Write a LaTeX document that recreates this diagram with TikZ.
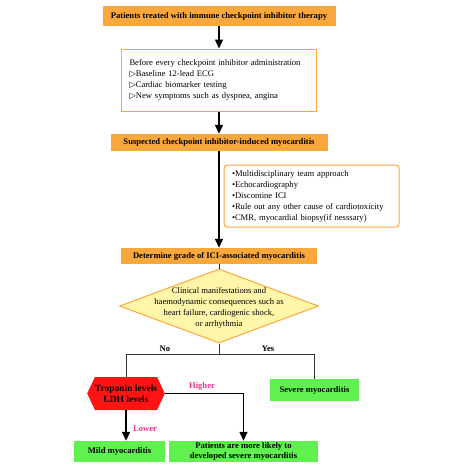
\documentclass[tikz,border=0pt]{standalone}
\usepackage{fontspec}
\setmainfont{Liberation Serif}
\newfontfamily\symfont{DejaVu Sans}
\usetikzlibrary{shapes.geometric,shapes.symbols,arrows.meta}

\definecolor{boxorange}{RGB}{250,168,60}
\definecolor{diayellow}{RGB}{255,246,170}
\definecolor{hexred}{RGB}{255,20,20}
\definecolor{boxgreen}{RGB}{96,240,80}
\definecolor{notepink}{RGB}{232,50,140}

\newcommand{\itemtri}{{\symfont\fontsize{8.2}{11}\selectfont ▷}}
\newcommand{\itembul}{•}

\begin{document}
\begin{tikzpicture}[x=1pt,y=-1pt,
	font=\fontsize{8.6}{11}\selectfont,
	stagebox/.style={fill=boxorange,inner sep=0pt,minimum height=17pt,font=\fontsize{8.6}{10}\selectfont\bfseries},
	notebox/.style={draw=boxorange,line width=1pt,fill=white,inner xsep=8pt,inner ysep=0pt,minimum height=62pt,align=left},
	outcome/.style={fill=boxgreen,inner sep=0pt,minimum height=21pt,align=center,font=\fontsize{8.6}{10}\selectfont\bfseries},
	flow/.style={-{Triangle[width=8pt,length=9pt]},line width=1.4pt},
	branch/.style={line width=1pt,draw=black!80},
	tag/.style={font=\fontsize{8.6}{10}\selectfont\bfseries}]
	\useasboundingbox (0,0) rectangle (474,471);
	\def\mx{219} % x of the main column
	
	% main column
	\node[stagebox,minimum width=233pt,minimum height=20pt] (treat) at (\mx,16) {Patients treated with immune checkpoint inhibitor therapy};
	\node[notebox,text width=179pt] (baseline) at (\mx,80) {Before every checkpoint inhibitor administration\\
		\itemtri Baseline 12-lead ECG\\
		\itemtri Cardiac biomarker testing\\
		\itemtri New symptoms such as dyspnea, angina};
	\node[stagebox,minimum width=217pt] (suspect) at (\mx,142.5) {Suspected checkpoint inhibitor-induced myocarditis};
	\node[notebox,rounded corners=3pt,text width=159pt] (workup) at (311.5,196) {\itembul Multidisciplinary team approach\\
		\itembul Echocardiography\\
		\itembul Discontine ICI\\
		\itembul Rule out any other cause of cardiotoxicity\\
		\itembul CMR, myocardial biopsy(if nesssary)};
	\node[stagebox,minimum width=196pt,minimum height=16pt] (grade) at (\mx,256) {Determine grade of ICI-associated myocarditis};
	
	% decision
	\node[diamond,draw=boxorange,line width=1pt,fill=diayellow,minimum width=199pt,minimum height=74pt,inner sep=0pt] (clinic) at (\mx,306) {};
	\node[align=center] (clinictext) at (\mx,308) {Clinical manifestations and\\haemodynamic consequences such as\\heart failure, cardiogenic shock,\\or arrhythmia};
	\coordinate (fork) at (\mx,354);
	
	% outcomes
	\node[signal,signal to=west and east,signal pointer angle=130,fill=hexred,minimum width=76pt,minimum height=33pt,inner sep=0pt,align=center,font=\fontsize{9.5}{11}\selectfont\bfseries] (marker) at (126,393.5) {Troponin levels\\LDH levels};
	\node[outcome,minimum width=89pt,minimum height=22pt] (severe) at (314.5,390) {Severe myocarditis};
	\node[outcome,minimum width=91pt] (mild) at (119.5,451.5) {Mild myocarditis};
	\node[outcome,minimum width=149pt] (likely) at (243.5,451.5) {Patients are more likely to\\developed severe myocarditis};
	
	\draw[flow] (treat) -- (baseline);
	\draw[flow] (baseline) -- (suspect);
	\draw[flow] (suspect) -- (grade);
	\draw[branch] (grade) -- (clinic);
	\draw[branch] (clinic) -- (fork);
	\draw[branch] (fork) -| (marker.north);
	\draw[branch] (fork) -| (severe.north);
	\draw[flow] (marker.south) -- (marker.south |- mild.north);
	\draw[flow] (marker.east) -| (likely.north);
	
	\node[tag] (no) at (165,349) {No};
	\node[tag] (yes) at (268,349) {Yes};
	\node[tag,text=notepink] (higher) at (202,386) {Higher};
	\node[tag,text=notepink] (lower) at (145,429) {Lower};
\end{tikzpicture}
\end{document}
